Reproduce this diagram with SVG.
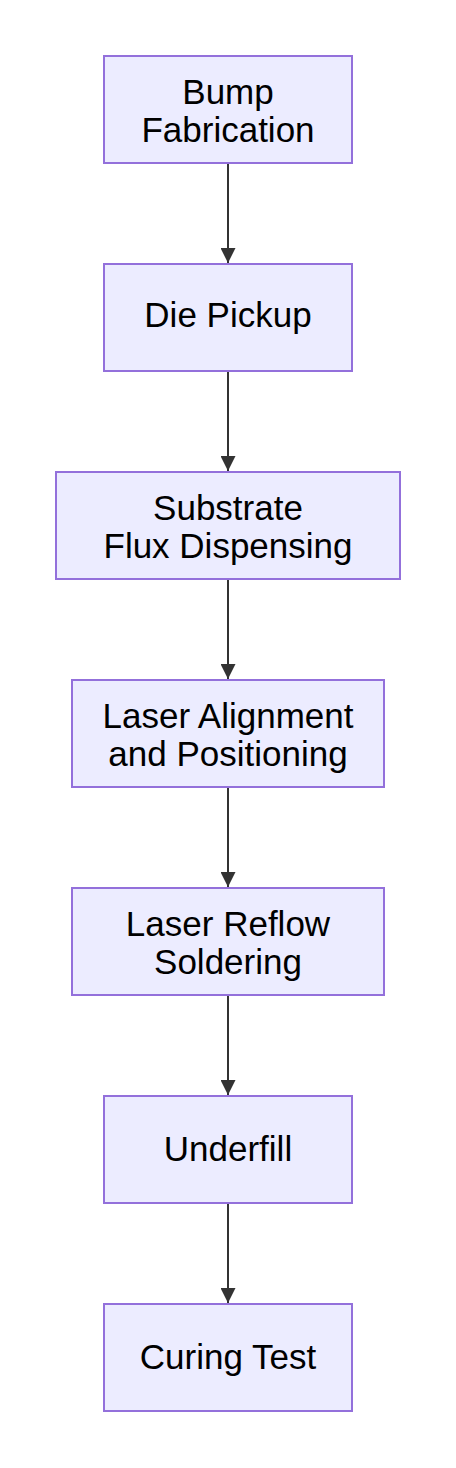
<svg xmlns="http://www.w3.org/2000/svg" width="456" height="1468" viewBox="0 0 456 1468">
<style>
.box{fill:#ECECFF;stroke:#9370DB;stroke-width:2}
.lbl{font-family:"Liberation Sans",Arial,sans-serif;font-size:35px;fill:#000;text-anchor:middle}
.edge{stroke:#333;stroke-width:2;fill:none}
</style>
<defs>
<marker id="arr" viewBox="0 0 10 10" refX="10" refY="5" markerWidth="15" markerHeight="15" markerUnits="userSpaceOnUse" orient="auto">
<path d="M0,0 L10,5 L0,10 z" fill="#333"/>
</marker>
</defs>
<rect width="456" height="1468" fill="#fff"/>
<g id="connectors">
<path class="edge" d="M228,164 V263" marker-end="url(#arr)"/>
<path class="edge" d="M228,372 V471" marker-end="url(#arr)"/>
<path class="edge" d="M228,580 V679" marker-end="url(#arr)"/>
<path class="edge" d="M228,788 V887" marker-end="url(#arr)"/>
<path class="edge" d="M228,996 V1095" marker-end="url(#arr)"/>
<path class="edge" d="M228,1204 V1303" marker-end="url(#arr)"/>
</g>
<g id="n1"><rect class="box" x="104" y="56" width="248" height="107"/><text class="lbl" x="228" y="103.5">Bump</text><text class="lbl" x="228" y="141.5">Fabrication</text></g>
<g id="n2"><rect class="box" x="104" y="264" width="248" height="107"/><text class="lbl" x="228" y="327">Die Pickup</text></g>
<g id="n3"><rect class="box" x="56" y="472" width="344" height="107"/><text class="lbl" x="228" y="519.5">Substrate</text><text class="lbl" x="228" y="557.5">Flux Dispensing</text></g>
<g id="n4"><rect class="box" x="72" y="680" width="312" height="107"/><text class="lbl" x="228" y="727.5">Laser Alignment</text><text class="lbl" x="228" y="765.5">and Positioning</text></g>
<g id="n5"><rect class="box" x="72" y="888" width="312" height="107"/><text class="lbl" x="228" y="935.5">Laser Reflow</text><text class="lbl" x="228" y="973.5">Soldering</text></g>
<g id="n6"><rect class="box" x="104" y="1096" width="248" height="107"/><text class="lbl" x="228" y="1161">Underfill</text></g>
<g id="n7"><rect class="box" x="104" y="1304" width="248" height="107"/><text class="lbl" x="228" y="1369">Curing Test</text></g>
</svg>
